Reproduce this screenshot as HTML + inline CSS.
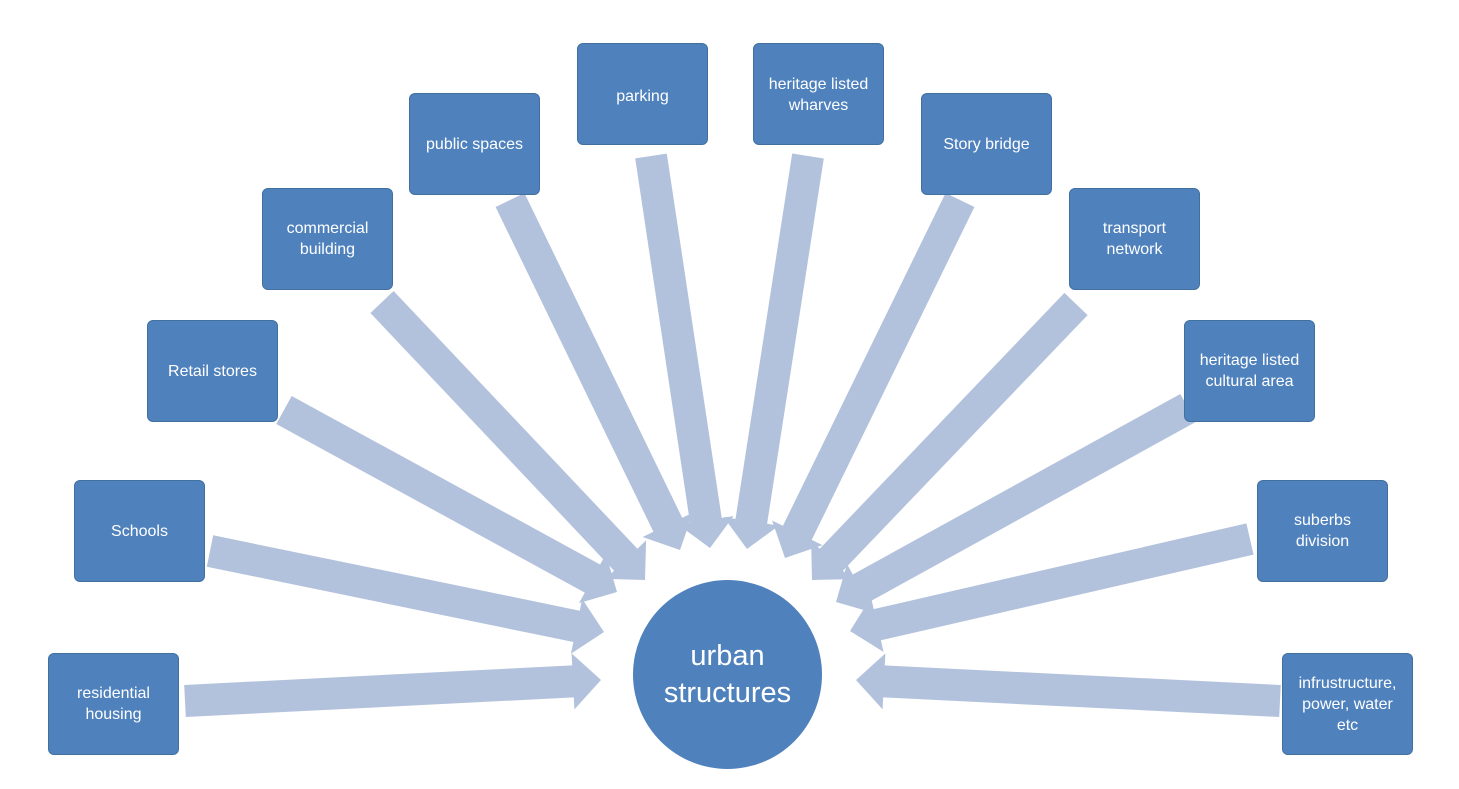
<!DOCTYPE html>
<html><head><meta charset="utf-8"><style>
body{margin:0;background:#fff;width:1459px;height:789px;overflow:hidden;position:relative;font-family:"Liberation Sans",sans-serif}
.b{position:absolute;width:131px;height:102px;background:#4f81bd;border:1px solid #41709f;border-radius:6px;color:#fff;font-size:16px;line-height:21px;text-align:center;display:flex;align-items:center;justify-content:center;box-sizing:border-box}
.c{position:absolute;left:633px;top:580px;width:189px;height:189px;border-radius:50%;background:#4f81bd;color:#fff;font-size:29px;line-height:37px;display:flex;align-items:center;justify-content:center;text-align:center}
svg{position:absolute;left:0;top:0}
</style></head><body>
<svg id="s" width="1459" height="789"></svg>
<div class="b" style="left:48px;top:653px">residential<br>housing</div>
<div class="b" style="left:74px;top:480px">Schools</div>
<div class="b" style="left:147px;top:320px">Retail stores</div>
<div class="b" style="left:262px;top:188px">commercial<br>building</div>
<div class="b" style="left:409px;top:93px;align-items:flex-start;padding-top:40px">public spaces</div>
<div class="b" style="left:577px;top:43px;align-items:flex-start;padding-top:42px">parking</div>
<div class="b" style="left:753px;top:43px;align-items:flex-start;padding-top:30px">heritage listed<br>wharves</div>
<div class="b" style="left:921px;top:93px;align-items:flex-start;padding-top:40px">Story bridge</div>
<div class="b" style="left:1069px;top:188px">transport<br>network</div>
<div class="b" style="left:1184px;top:320px">heritage listed<br>cultural area</div>
<div class="b" style="left:1257px;top:480px">suberbs<br>division</div>
<div class="b" style="left:1282px;top:653px">infrustructure,<br>power, water<br>etc</div>
<div class="c">urban<br>structures</div>
<script>
var A=[[185,701,601,680],[210,551,604,632],[284,410,617,592],[382,302,645,580],[510,200,680,550],[651,156,710,548],[808,156,747,549],[960,200,785,558],[1076,304,812,580],[1188,408,836,602],[1250,539,850,631],[1280,701,856,680]];
var h='';
A.forEach(function(a){var dx=a[2]-a[0],dy=a[3]-a[1],L=Math.hypot(dx,dy),ux=dx/L,uy=dy/L,px=-uy,py=ux,s=16,w=28,hl=28;
var bx=a[2]-ux*hl,by=a[3]-uy*hl;
var p=[[a[0]+px*s,a[1]+py*s],[bx+px*s,by+py*s],[bx+px*w,by+py*w],[a[2],a[3]],[bx-px*w,by-py*w],[bx-px*s,by-py*s],[a[0]-px*s,a[1]-py*s]];
h+='<polygon fill="#b3c2dc" points="'+p.map(function(q){return q[0].toFixed(1)+','+q[1].toFixed(1)}).join(' ')+'"/>';});
document.getElementById('s').innerHTML=h;
</script>
</body></html>
